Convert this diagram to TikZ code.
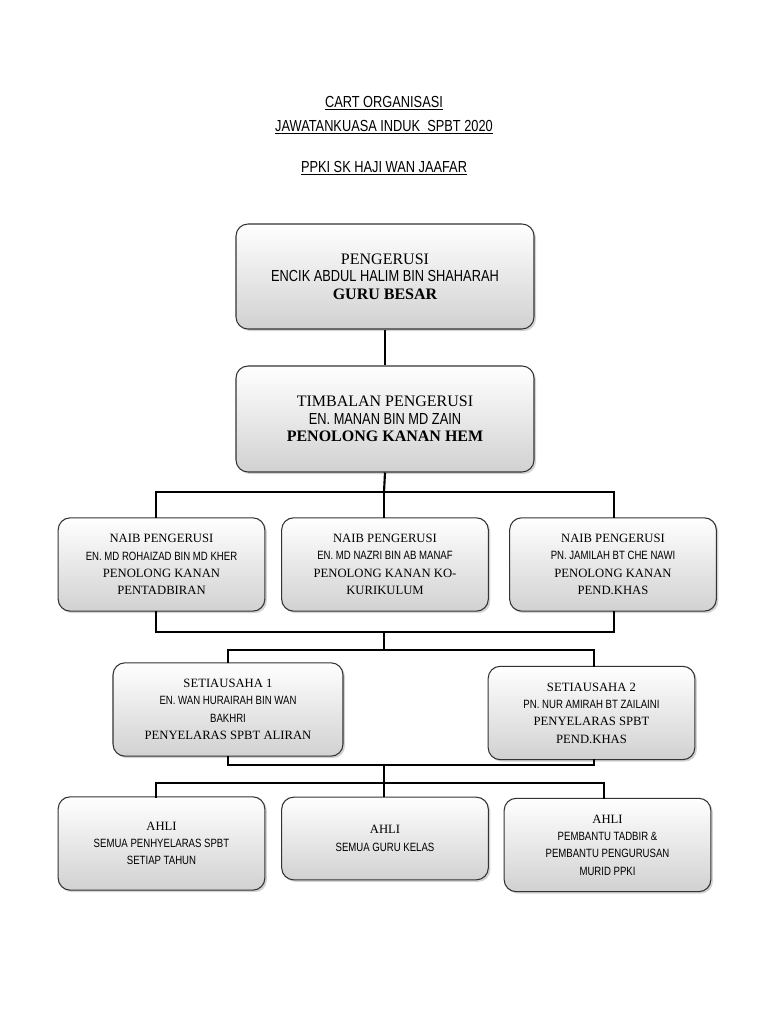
\documentclass[tikz,border=0pt]{standalone}
\usepackage{fontspec}
\setmainfont{Liberation Serif}
\newfontfamily\nar{Liberation Sans}[FakeStretch=0.8]
\usetikzlibrary{shadows}
\begin{document}
\begin{tikzpicture}[x=0.75pt,y=-0.75pt,
 box/.style={draw=black!80,line width=0.8pt,rounded corners=9pt,top color=white,bottom color=black!18,
   drop shadow={shadow xshift=1.5pt,shadow yshift=-1.5pt,opacity=0.35},align=center,inner sep=2pt},
 ln/.style={line width=1.6pt}, ln2/.style={line width=1.1pt}]
\useasboundingbox (0,0) rectangle (768,1024);
\node[font=\nar\fontsize{12}{14}\selectfont,align=center] (t1) at (384,103) {\underline{CART ORGANISASI}};
\node[font=\nar\fontsize{12}{14}\selectfont] (t2) at (384,127) {\underline{JAWATANKUASA INDUK\ \ SPBT 2020}};
\node[font=\nar\fontsize{12}{14}\selectfont] (t3) at (384,168) {\underline{PPKI SK HAJI WAN JAAFAR}};
% boxes
\node[box,minimum width=223.5pt,minimum height=78.75pt] (p) at (385,276.5) {\fontsize{12}{16}\selectfont PENGERUSI\\[1pt]{\nar\fontsize{12}{16}\selectfont ENCIK ABDUL HALIM BIN SHAHARAH}\\[1pt]\fontsize{12}{16}\selectfont\bfseries GURU BESAR};
\node[box,minimum width=223.5pt,minimum height=79.5pt] (tp) at (385,419) {\fontsize{12}{16}\selectfont TIMBALAN PENGERUSI\\[1pt]{\nar\fontsize{12}{16}\selectfont EN. MANAN BIN MD ZAIN}\\[1pt]\fontsize{12}{16}\selectfont\bfseries PENOLONG KANAN HEM};
\tikzset{sm/.style={box,minimum width=155pt,minimum height=70pt,font=\fontsize{9.5}{13}\selectfont}}
\newcommand\nn[1]{{\nar\fontsize{9}{13}\selectfont #1}}
\node[sm] (n1) at (161.5,564.5) {NAIB PENGERUSI\\\nn{EN. MD ROHAIZAD BIN MD KHER}\\PENOLONG KANAN\\PENTADBIRAN};
\node[sm] (n2) at (385,564.5) {NAIB PENGERUSI\\\nn{EN. MD NAZRI BIN AB MANAF}\\PENOLONG KANAN KO-\\KURIKULUM};
\node[sm] (n3) at (613,564.5) {NAIB PENGERUSI\\\nn{PN. JAMILAH BT CHE NAWI}\\PENOLONG KANAN\\PEND.KHAS};
\node[sm,minimum width=172.5pt] (s1) at (228,709.5) {SETIAUSAHA 1\\\nn{EN. WAN HURAIRAH BIN WAN}\\\nn{BAKHRI}\\PENYELARAS SPBT ALIRAN};
\node[sm] (s2) at (591.5,713) {SETIAUSAHA 2\\\nn{PN. NUR AMIRAH BT ZAILAINI}\\PENYELARAS SPBT\\PEND.KHAS};
\node[sm] (a1) at (161.5,843.5) {AHLI\\\nn{SEMUA PENHYELARAS SPBT}\\\nn{SETIAP TAHUN}};
\node[sm,minimum height=62pt] (a2) at (385,838.5) {AHLI\\\nn{SEMUA GURU KELAS}};
\node[sm] (a3) at (607.5,845) {AHLI\\\nn{PEMBANTU TADBIR \&}\\\nn{PEMBANTU PENGURUSAN}\\\nn{MURID PPKI}};
% connectors
\draw[ln] (p.south) -- (tp.north);
\draw[ln] (tp.south) -- (384,492) coordinate (h1);
\draw[ln] (156,518) |- (h1) -| (614,518);
\draw[ln] (h1) -- (384,518);
\draw[ln] (156,611) |- (614,632) -- (614,611);
\draw[ln2] (384,632) -- (384,650) coordinate (h2);
\draw[ln2] (228,663) |- (h2) -| (594,667);
\draw[ln] (228,756) |- (594,765) -- (594,759);
\draw[ln2] (384,765) -- (384,783) coordinate (h3);
\draw[ln] (156,798) |- (h3) -| (604,799);
\draw[ln] (384,783) -- (384,797);
\end{tikzpicture}
\end{document}
